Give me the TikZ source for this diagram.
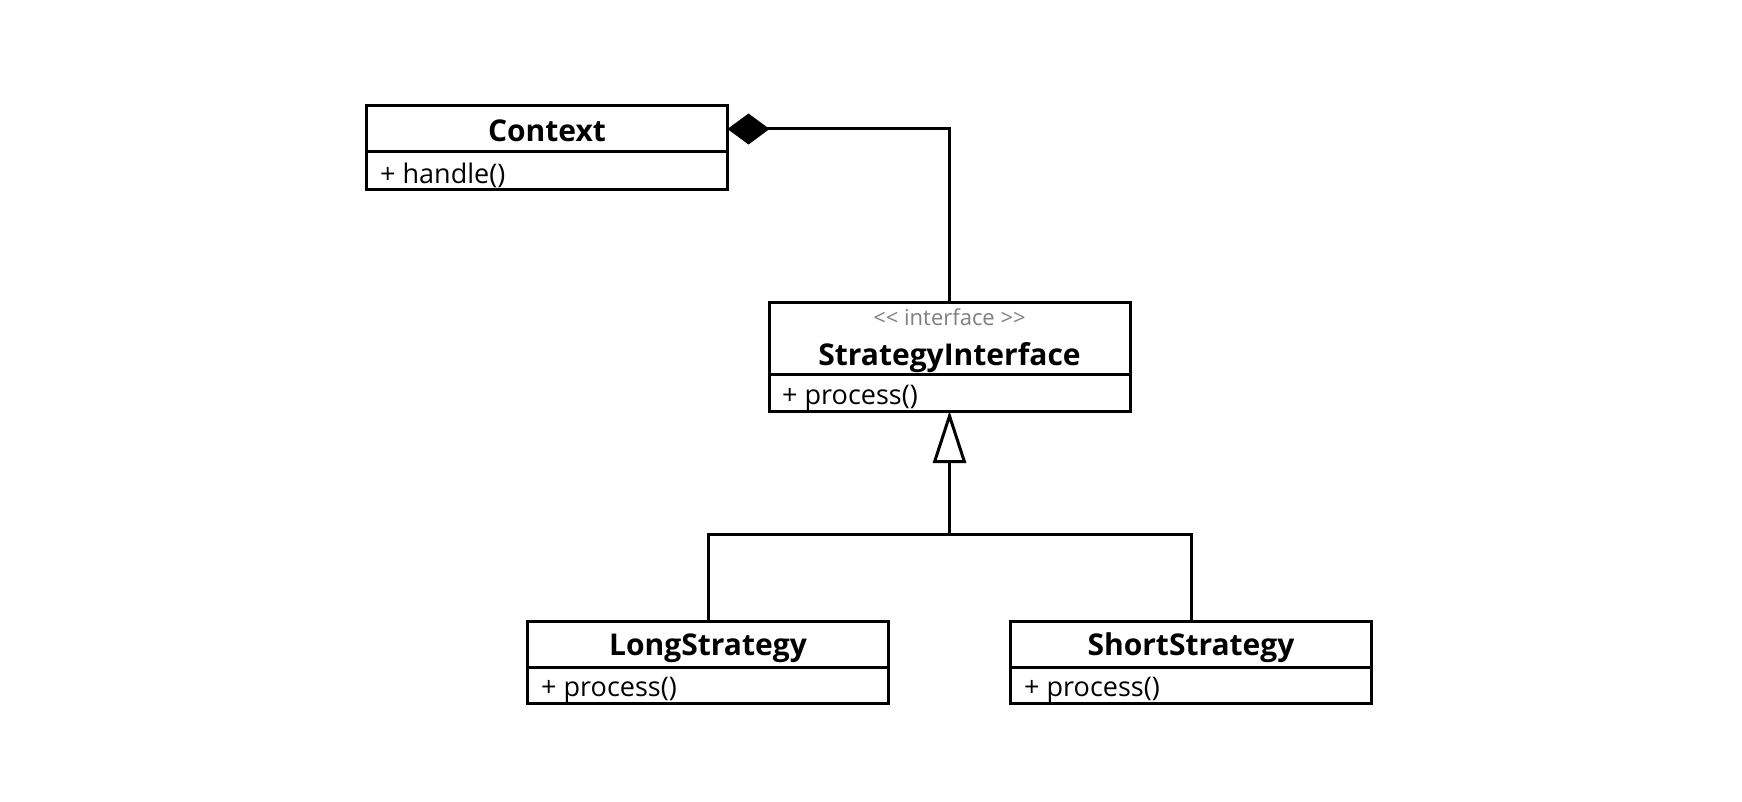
\documentclass[tikz,border=0pt]{standalone}
\usepackage{fontspec}
\setmainfont{Open Sans}
\usetikzlibrary{arrows.meta}
\begin{document}
\begin{tikzpicture}[x=1pt,y=-1pt,
  box/.style={draw=black, line width=3pt, fill=white, minimum width=361pt, inner sep=0pt, outer sep=0pt, anchor=north},
  ttl/.style={font=\fontsize{30}{34}\selectfont\bfseries, inner sep=0pt, anchor=base},
  meth/.style={font=\fontsize{27}{32}\selectfont, inner sep=0pt, anchor=base west},
  stereo/.style={text=gray, font=\fontsize{22}{26}\selectfont, inner sep=0pt, anchor=base},
  conn/.style={draw=black, line width=3pt}
]
\useasboundingbox (0,0) rectangle (1742,802);
% Context
\node[box, minimum height=46pt] (ctx) at (547,106) {};
\node[box, minimum height=38pt] (ctxm) at (ctx.south) {};
\node[ttl] (ctxt) at (547,142) {Context};
\node[meth] (ctxmt) at (380,184) {+ handle()};
% StrategyInterface
\node[box, minimum height=72pt] (ifc) at (949.5,302) {};
\node[box, minimum height=37pt] (ifcm) at (ifc.south) {};
\node[stereo] (ster) at (949.5,325) {{<}{<} interface {>}{>}};
\node[ttl] (ifct) at (949.5,365) {StrategyInterface};
\node[meth] (ifcmt) at (782,404) {+ process()};
% LongStrategy
\node[box, minimum height=46pt] (lng) at (708,621) {};
\node[box, minimum height=36pt] (lngm) at (lng.south) {};
\node[ttl] (lngt) at (708,655) {LongStrategy};
\node[meth] (lngmt) at (541,696) {+ process()};
% ShortStrategy
\node[box, minimum height=46pt] (sht) at (1191,621) {};
\node[box, minimum height=36pt] (shtm) at (sht.south) {};
\node[ttl] (shtt) at (1191,655) {ShortStrategy};
\node[meth] (shtmt) at (1024,696) {+ process()};
% composition
\draw[conn, {Diamond[length=42pt,width=31pt]}-] (ctx.east) -| (ifc.north);
% generalization
\coordinate (bar) at (949.5,534);
\draw[conn, {Triangle[open,length=52pt,width=33pt,fill=white]}-] (ifcm.south) -- (bar);
\draw[conn] (lng.north) |- (bar) -| (sht.north);
\end{tikzpicture}
\end{document}
